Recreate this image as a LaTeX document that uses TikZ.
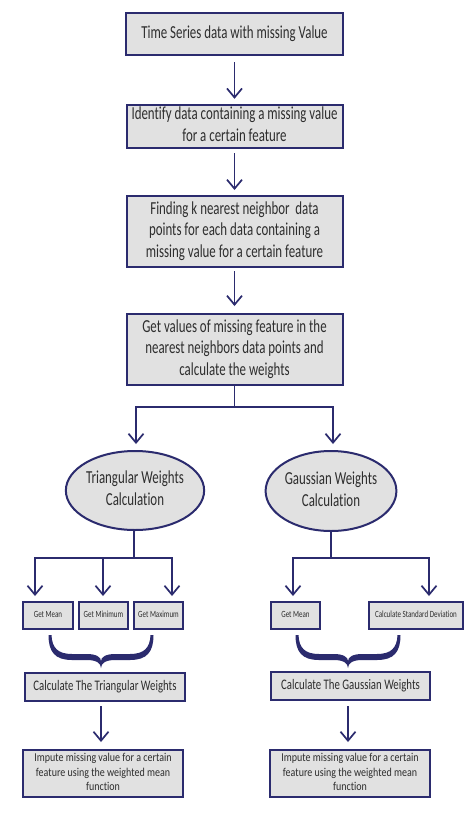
\documentclass[tikz,border=0pt]{standalone}
\usepackage{fontspec}
\setmainfont{Carlito}[Ligatures=NoCommon]
\usepackage{graphicx}
\usetikzlibrary{arrows.meta,shapes.geometric}
\definecolor{navy}{HTML}{2B2B6E}
\definecolor{boxgray}{HTML}{E1E1E1}
\definecolor{txt}{HTML}{2E2E2E}
\newcommand{\vtxt}[4]{\scalebox{1}[#1]{\fontsize{#2}{#3}\selectfont\begin{tabular}{@{}c@{}}#4\end{tabular}}}
\newcommand{\mybrace}[3]{%
\fill[navy] (#1-1.5,635) .. controls (#1-1.5,652) and (#1+5,660) .. (#1+22,660) -- (#2-14,660) .. controls (#2-5,660) and (#2,663) .. (#2,668) .. controls (#2,663) and (#2+5,660) .. (#2+14,660) -- (#3-22,660) .. controls (#3-5,660) and (#3+1.5,652) .. (#3+1.5,635) -- (#3-1.5,635) .. controls (#3-2,648) and (#3-8,654) .. (#3-22,654) -- (#2+14,654) .. controls (#2+5,654) and (#2,657) .. (#2,661) .. controls (#2,657) and (#2-5,654) .. (#2-14,654) -- (#1+22,654) .. controls (#1+8,654) and (#1+2,648) .. (#1+1.5,635) -- cycle;}
\newcommand{\maintxt}[1]{\vtxt{1.42}{12.9}{15.3}{#1}}
\begin{document}
\begin{tikzpicture}[x=1pt,y=-1pt,
  box/.style={draw=navy,fill=boxgray,line width=2pt,inner sep=0pt,text=txt},
  ell/.style={ellipse,draw=navy,fill=boxgray,line width=2pt,inner sep=0pt,text=txt},
  ln/.style={draw=navy,line width=1.7pt},
  arr/.style={ln,-{Straight Barb[length=9pt,width=15pt]}}]
\fill[white] (0,0) rectangle (474,814);
\useasboundingbox (0,0) rectangle (474,814);

\node[box,minimum width=217pt,minimum height=42pt] (b1) at (234.5,34) {\maintxt{Time Series data with missing Value}};
\node[box,minimum width=216pt,minimum height=43pt] (b2) at (234.5,126.5) {\maintxt{Identify data containing a missing value\\for a certain feature}};
\node[box,minimum width=216pt,minimum height=71pt] (b3) at (234.5,231.5) {\maintxt{Finding k nearest neighbor\ \ data\\points for each data containing a\\missing value for a certain feature}};
\node[box,minimum width=216pt,minimum height=71pt] (b4) at (234.5,349.5) {\maintxt{Get values of missing feature in the\\nearest neighbors data points and\\calculate the weights}};

\node[ell,minimum width=130pt,minimum height=79pt] (e1) at (135,490.5) {\maintxt{Triangular Weights\\Calculation}};
\node[ell,minimum width=130pt,minimum height=80pt] (e2) at (331,491) {\maintxt{Gaussian Weights\\Calculation}};

\node[box,minimum width=50pt,minimum height=27pt] (t1) at (48,615.5) {\vtxt{1.35}{7}{8.5}{Get Mean}};
\node[box,minimum width=49pt,minimum height=27pt] (t2) at (103.5,615.5) {\vtxt{1.35}{7}{8.5}{Get Minimum}};
\node[box,minimum width=49pt,minimum height=27pt] (t3) at (158.5,615.5) {\vtxt{1.35}{7}{8.5}{Get Maximum}};
\node[box,minimum width=160pt,minimum height=28pt] (tc) at (105,687) {\vtxt{1.35}{10.8}{13}{Calculate The Triangular Weights}};
\node[box,minimum width=160pt,minimum height=47pt] (ti) at (103,773.5) {\vtxt{1.2}{10}{12.1}{Impute missing value for a certain\\feature using the weighted mean\\function}};

\node[box,minimum width=49pt,minimum height=27pt] (g1) at (295.5,615.5) {\vtxt{1.35}{7}{8.5}{Get Mean}};
\node[box,minimum width=94pt,minimum height=27pt] (g2) at (416,615.5) {\vtxt{1.35}{7}{8.5}{Calculate Standard Deviation}};
\node[box,minimum width=159pt,minimum height=28pt] (gc) at (350.5,686) {\vtxt{1.35}{10.8}{13}{Calculate The Gaussian Weights}};
\node[box,minimum width=160pt,minimum height=47pt] (gi) at (350,773.5) {\vtxt{1.2}{10}{12.1}{Impute missing value for a certain\\feature using the weighted mean\\function}};

% main column arrows
\draw[arr] ([yshift=-6pt]b1.south) -- ([yshift=5pt]b2.north);
\draw[arr] ([yshift=-4pt]b2.south) -- ([yshift=5pt]b3.north);
\draw[arr] ([yshift=-3pt]b3.south) -- ([yshift=7pt]b4.north);

% split to ellipses
\draw[ln] (b4.south) -- ++(0,21) coordinate (j1);
\draw[arr] (j1) -| ([xshift=1pt,yshift=6pt]e1.north);
\draw[arr] (j1) -| ([xshift=2pt,yshift=6pt]e2.north);

% triangular branch
\draw[ln] ([xshift=-1pt]e1.south) -- ++(0,27) coordinate (j2);
\draw[arr] (j2) -| ([xshift=-13pt,yshift=5pt]t1.north);
\draw[arr] (j2) -| ([xshift=-0.5pt,yshift=5pt]t2.north);
\draw[arr] (j2) -| ([xshift=13.5pt,yshift=5pt]t3.north);

% gaussian branch
\draw[ln] (e2.south) -- ++(0,26) coordinate (j3);
\draw[arr] (j3) -| ([xshift=-2.5pt,yshift=5pt]g1.north);
\draw[arr] (j3) -| ([xshift=13pt,yshift=5pt]g2.north);

% braces
\mybrace{50}{101}{152}
\mybrace{297}{348}{399}

% final arrows
\draw[arr] ([xshift=-2pt]ti.north |- tc.south) ++(0,-4pt) -- ([xshift=-2pt,yshift=7pt]ti.north);
\draw[arr] ([xshift=-2pt]gi.north |- gc.south) ++(0,-5pt) -- ([xshift=-2pt,yshift=7pt]gi.north);
\end{tikzpicture}
\end{document}
